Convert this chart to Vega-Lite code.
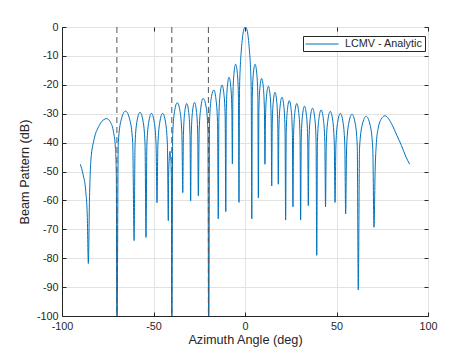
{
 "$schema": "https://vega.github.io/schema/vega-lite/v6.json",
 "width": 366, "height": 289,
 "autosize": {"type": "none"},
 "padding": {"left": 62, "top": 27, "right": 46, "bottom": 39},
 "background": "white",
 "config": {
   "font": "Liberation Sans",
   "locale": {"number": {"decimal": ".", "thousands": ",", "grouping": [3], "currency": ["$", ""], "minus": "-"}},
   "view": {"stroke": "#262626", "strokeWidth": 1},
   "axis": {"domainColor": "#262626", "tickColor": "#262626", "labelColor": "#262626", "titleColor": "#262626", "labelFontSize": 10.8, "titleFontSize": 12.7, "titleFontWeight": "normal", "gridColor": "#e3e3e3", "tickSize": -4, "labelPadding": 8},
   "legend": {"orient": "none", "legendX": 241, "legendY": 9, "strokeColor": "#262626", "fillColor": "white", "padding": 2, "symbolType": "M-3,0H3", "symbolSize": 121, "symbolStrokeWidth": 1, "symbolFillColor": "transparent", "symbolOffset": 11, "labelFontSize": 10.8, "labelColor": "#262626", "labelOffset": 17}
 },
 "layer": [
  {
   "data": {"values": [
    {"angle":-90,"dB":-47.5},{"angle":-88.5,"dB":-51},{"angle":-87,"dB":-57},{"angle":-86.2,"dB":-65},{"angle":-85.6,"dB":-81.8},{"angle":-85.0,"dB":-60},{"angle":-84.2,"dB":-46},{"angle":-82.5,"dB":-39},{"angle":-80,"dB":-34.5},{"angle":-77.5,"dB":-32.2},{"angle":-75.6,"dB":-31.7},{"angle":-73.5,"dB":-33},{"angle":-71.8,"dB":-36.5},{"angle":-70.8,"dB":-42},{"angle":-70.3,"dB":-52},{"angle":-70,"dB":-115},
    {"angle":-69.25,"dB":-40.1},{"angle":-67.65,"dB":-32.1},{"angle":-65.3,"dB":-29.1},{"angle":-62.95,"dB":-32.1},{"angle":-61.35,"dB":-40.1},{"angle":-60.6,"dB":-73.9},
    {"angle":-60.08,"dB":-40.5},{"angle":-58.98,"dB":-32.5},{"angle":-57.35,"dB":-29.5},{"angle":-55.73,"dB":-32.5},{"angle":-54.62,"dB":-40.5},{"angle":-54.1,"dB":-72.8},
    {"angle":-53.62,"dB":-40.9},{"angle":-52.6,"dB":-32.9},{"angle":-51.1,"dB":-29.9},{"angle":-49.6,"dB":-32.9},{"angle":-48.58,"dB":-40.9},{"angle":-48.1,"dB":-60.8},
    {"angle":-47.6,"dB":-40.9},{"angle":-46.55,"dB":-32.9},{"angle":-45.0,"dB":-29.9},{"angle":-43.45,"dB":-32.9},{"angle":-42.4,"dB":-40.9},{"angle":-41.9,"dB":-67},
    {"angle":-41.75,"dB":-52},{"angle":-41.4,"dB":-45.5},{"angle":-41.0,"dB":-43},{"angle":-40.5,"dB":-46},{"angle":-40.2,"dB":-55},{"angle":-40,"dB":-115},
    {"angle":-39.52,"dB":-37.2},{"angle":-38.5,"dB":-29.2},{"angle":-37.0,"dB":-26.2},{"angle":-35.5,"dB":-29.2},{"angle":-34.48,"dB":-37.2},{"angle":-34.0,"dB":-57.3},
    {"angle":-33.66,"dB":-37.5},{"angle":-32.93,"dB":-29.5},{"angle":-31.85,"dB":-26.5},{"angle":-30.78,"dB":-29.5},{"angle":-30.04,"dB":-37.5},{"angle":-29.7,"dB":-60.1},
    {"angle":-29.36,"dB":-37.1},{"angle":-28.65,"dB":-29.1},{"angle":-27.6,"dB":-26.1},{"angle":-26.55,"dB":-29.1},{"angle":-25.84,"dB":-37.1},{"angle":-25.5,"dB":-58.4},
    {"angle":-25.04,"dB":-35.7},{"angle":-24.08,"dB":-27.7},{"angle":-22.9,"dB":-24.7},{"angle":-21.23,"dB":-27.7},{"angle":-20.26,"dB":-35.7},{"angle":-19.8,"dB":-115},
    {"angle":-19.38,"dB":-32.8},{"angle":-18.5,"dB":-24.8},{"angle":-17.0,"dB":-21.8},{"angle":-15.9,"dB":-24.8},{"angle":-15.02,"dB":-32.8},{"angle":-14.6,"dB":-66.4},
    {"angle":-14.27,"dB":-31.1},{"angle":-13.58,"dB":-23.1},{"angle":-12.55,"dB":-20.1},{"angle":-11.53,"dB":-23.1},{"angle":-10.83,"dB":-31.1},{"angle":-10.5,"dB":-63.9},
    {"angle":-10.21,"dB":-28.4},{"angle":-9.6,"dB":-20.4},{"angle":-8.7,"dB":-17.4},{"angle":-7.8,"dB":-20.4},{"angle":-7.19,"dB":-28.4},{"angle":-6.9,"dB":-47.4},
    {"angle":-6.61,"dB":-23.9},{"angle":-6.0,"dB":-15.9},{"angle":-5.1,"dB":-12.9},{"angle":-4.2,"dB":-15.9},{"angle":-3.59,"dB":-23.9},{"angle":-3.3,"dB":-60.7},
    {"angle":-3.0,"dB":-22},{"angle":-2.6,"dB":-14},{"angle":-2.0,"dB":-8},{"angle":-1.4,"dB":-3.8},{"angle":-0.7,"dB":-1.0},{"angle":0.2,"dB":0},{"angle":1.1,"dB":-1.0},{"angle":1.8,"dB":-3.8},{"angle":2.4,"dB":-8},{"angle":3.0,"dB":-14},{"angle":3.4,"dB":-22},{"angle":3.7,"dB":-66.4},
    {"angle":3.99,"dB":-23.9},{"angle":4.6,"dB":-15.9},{"angle":5.5,"dB":-12.9},{"angle":6.4,"dB":-15.9},{"angle":7.01,"dB":-23.9},{"angle":7.3,"dB":-59.1},
    {"angle":7.59,"dB":-28.8},{"angle":8.2,"dB":-20.8},{"angle":9.1,"dB":-17.8},{"angle":10.0,"dB":-20.8},{"angle":10.61,"dB":-28.8},{"angle":10.9,"dB":-47.5},
    {"angle":11.2,"dB":-31.5},{"angle":11.83,"dB":-23.5},{"angle":12.75,"dB":-20.5},{"angle":13.68,"dB":-23.5},{"angle":14.3,"dB":-31.5},{"angle":14.6,"dB":-55},
    {"angle":14.89,"dB":-33.6},{"angle":15.5,"dB":-25.6},{"angle":16.4,"dB":-22.6},{"angle":17.3,"dB":-25.6},{"angle":17.91,"dB":-33.6},{"angle":18.2,"dB":-54.4},
    {"angle":18.52,"dB":-35.3},{"angle":19.2,"dB":-27.3},{"angle":20.2,"dB":-24.3},{"angle":21.2,"dB":-27.3},{"angle":21.88,"dB":-35.3},{"angle":22.2,"dB":-66.8},
    {"angle":22.52,"dB":-36.5},{"angle":23.2,"dB":-28.5},{"angle":24.2,"dB":-25.5},{"angle":25.2,"dB":-28.5},{"angle":25.88,"dB":-36.5},{"angle":26.2,"dB":-62.2},
    {"angle":26.54,"dB":-37.5},{"angle":27.25,"dB":-29.5},{"angle":28.3,"dB":-26.5},{"angle":29.35,"dB":-29.5},{"angle":30.06,"dB":-37.5},{"angle":30.4,"dB":-66.8},
    {"angle":30.74,"dB":-38.4},{"angle":31.45,"dB":-30.4},{"angle":32.5,"dB":-27.4},{"angle":33.55,"dB":-30.4},{"angle":34.26,"dB":-38.4},{"angle":34.6,"dB":-61.8},
    {"angle":34.97,"dB":-39.1},{"angle":35.75,"dB":-31.1},{"angle":36.9,"dB":-28.1},{"angle":38.05,"dB":-31.1},{"angle":38.83,"dB":-39.1},{"angle":39.2,"dB":-79},
    {"angle":39.58,"dB":-39.7},{"angle":40.4,"dB":-31.7},{"angle":41.6,"dB":-28.7},{"angle":42.8,"dB":-31.7},{"angle":43.62,"dB":-39.7},{"angle":44.0,"dB":-62.2},
    {"angle":44.42,"dB":-40.2},{"angle":45.3,"dB":-32.2},{"angle":46.6,"dB":-29.2},{"angle":47.9,"dB":-32.2},{"angle":48.78,"dB":-40.2},{"angle":49.2,"dB":-60.7},
    {"angle":49.66,"dB":-40.9},{"angle":50.65,"dB":-32.9},{"angle":52.1,"dB":-29.9},{"angle":53.55,"dB":-32.9},{"angle":54.54,"dB":-40.9},{"angle":55.0,"dB":-64.7},
    {"angle":55.55,"dB":-41.2},{"angle":56.73,"dB":-33.2},{"angle":58.45,"dB":-30.2},{"angle":60.18,"dB":-33.2},{"angle":61.35,"dB":-41.2},{"angle":61.9,"dB":-91},
    {"angle":62.59,"dB":-41.9},{"angle":64.05,"dB":-33.9},{"angle":66.2,"dB":-30.9},{"angle":68.35,"dB":-33.9},{"angle":69.81,"dB":-41.9},{"angle":70.5,"dB":-69.3},
    {"angle":71.1,"dB":-50},{"angle":71.8,"dB":-40},{"angle":72.8,"dB":-35},{"angle":74.5,"dB":-31.8},{"angle":76.5,"dB":-30.7},{"angle":78.5,"dB":-31.8},{"angle":80.5,"dB":-34},{"angle":83,"dB":-37.5},{"angle":85.5,"dB":-41},{"angle":88,"dB":-45},{"angle":90,"dB":-47.5}
   ]},
   "mark": {"type": "line", "interpolate": "monotone", "clip": true, "strokeWidth": 1},
   "encoding": {
    "x": {"field": "angle", "type": "quantitative", "scale": {"domain": [-100, 100], "nice": false},
          "axis": {"title": "Azimuth Angle (deg)", "values": [-100, -50, 0, 50, 100], "grid": true, "labelFlush": false, "titlePadding": 3}},
    "y": {"field": "dB", "type": "quantitative", "scale": {"domain": [-100, 0], "nice": false},
          "axis": {"title": "Beam Pattern (dB)", "values": [-100, -90, -80, -70, -60, -50, -40, -30, -20, -10, 0], "grid": true, "titlePadding": 5}},
    "color": {"datum": "LCMV - Analytic", "type": "nominal", "scale": {"range": ["#0072BD"]}, "legend": {"title": null}}
   }
  },
  {
   "data": {"values": [{"angle": -70}, {"angle": -40}, {"angle": -20}]},
   "mark": {"type": "rule", "strokeDash": [6, 4], "color": "#555555", "strokeWidth": 1},
   "encoding": {
    "x": {"field": "angle", "type": "quantitative", "axis": {"orient": "top", "labels": false, "title": null, "grid": false, "values": [-100, -50, 0, 50, 100], "domain": false}},
    "y": {"datum": 0, "type": "quantitative", "axis": {"orient": "right", "labels": false, "title": null, "grid": false, "values": [-100, -90, -80, -70, -60, -50, -40, -30, -20, -10, 0], "domain": false}},
    "y2": {"datum": -100}
   }
  }
 ],
 "resolve": {"axis": {"x": "independent", "y": "independent"}}
}
